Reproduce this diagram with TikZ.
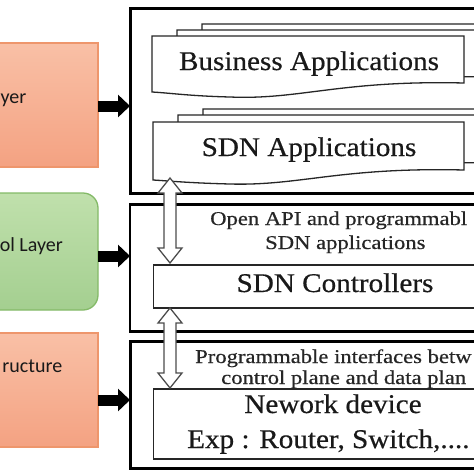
\documentclass[tikz,border=0pt]{standalone}
\usepackage{fontspec}
\setmainfont{Liberation Serif}
\newfontfamily\heavyserif{Liberation Serif}[FakeBold=0.5]
\newfontfamily\carlitofont{Carlito}
\usetikzlibrary{arrows.meta,calc}
\definecolor{orfillA}{RGB}{249,192,166}
\definecolor{orfillB}{RGB}{244,162,130}
\definecolor{ordraw}{RGB}{238,150,108}
\definecolor{grfillA}{RGB}{192,224,172}
\definecolor{grfillB}{RGB}{164,207,144}
\definecolor{grdraw}{RGB}{132,186,104}
\newcommand\hollowdbl[2]{%
  \draw[harrow] (#1) -- ++(12,15) -- ++(-6,0) -- ($(#2)+(6,-15)$) -- ++(6,0) -- (#2)
    -- ++(-12,-15) -- ++(6,0) -- ($(#1)+(-6,15)$) -- ++(-6,0) -- cycle;}
\begin{document}
\begin{tikzpicture}[x=1pt,y=-1pt,
  orbox/.style={draw=ordraw,line width=1.3pt,top color=orfillA,bottom color=orfillB,inner sep=0,outer sep=0,anchor=north west},
  grbox/.style={draw=grdraw,line width=1.3pt,top color=grfillA,bottom color=grfillB,rounded corners=15pt,inner sep=0,outer sep=0,anchor=north west},
  frame/.style={draw=black,line width=3pt,inner sep=0,outer sep=0,anchor=north west},
  plainbox/.style={draw=black!85,line width=1.5pt,fill=white,inner sep=0,outer sep=0,anchor=north west},
  docbox/.style={draw=black!85,line width=1.3pt,fill=white},
  bigarrow/.style={line width=11pt,-{Triangle[length=12pt,width=22pt]}},
  harrow/.style={draw=black!70,line width=1.3pt,fill=white,line join=miter},
  bigtxt/.style={font=\heavyserif\fontsize{27}{30}\selectfont,xscale=1.08,inner sep=0,text=black!90},
  smalltxt/.style={font=\heavyserif\fontsize{19.5}{22}\selectfont,xscale=1.16,inner sep=0,anchor=base west,text=black!85},
  lefttxt/.style={font=\carlitofont\fontsize{20}{24}\selectfont,inner sep=0,anchor=base east,text=black!90}]
\useasboundingbox (0,0) rectangle (474,474);
\clip (0,0) rectangle (474,474);
\fill[white] (0,0) rectangle (474,474);

% left layer boxes
\node[orbox,minimum width=120pt,minimum height=124pt] (L1) at (-22,43) {};
\node[grbox,minimum width=120pt,minimum height=117pt] (L2) at (-22,193) {};
\node[orbox,minimum width=120pt,minimum height=114pt] (L3) at (-22,333) {};
\node[lefttxt] (t1) at (26.5,103) {yer};
\node[lefttxt] (t2) at (63,251) {ol Layer};
\node[lefttxt] (t3) at (62.5,372) {ructure};

% right frames
\node[frame,minimum width=370pt,minimum height=185pt] (F1) at (130,8.5) {};
\node[frame,line width=2.2pt,minimum width=370pt,minimum height=127pt] (F2) at (130,204.5) {};
\node[frame,minimum width=370pt,minimum height=127pt] (F3) at (130,341.5) {};

% business applications stack
\foreach \dx/\dy in {50/-12,25/-6,0/0}{
  \begin{scope}[shift={(\dx,\dy)}]
  \draw[docbox] (152,36) -- (464,36) -- (464,83) .. controls (340,80) and (300,100) .. (230,97)
     .. controls (190,96) and (170,93) .. (152,92) -- cycle;
  \end{scope}}
\node[bigtxt,anchor=base] (bapp) at (309,70) {Business Applications};

% SDN applications stack
\foreach \dx/\dy in {50/-13,25/-7,0/0}{
  \begin{scope}[shift={(\dx,\dy)}]
  \draw[docbox] (153,122) -- (464,122) -- (464,170) .. controls (340,167) and (300,186) .. (230,184)
     .. controls (190,183) and (170,181) .. (153,180) -- cycle;
  \end{scope}}
\node[bigtxt,anchor=base] (sapp) at (309,156) {SDN Applications};

% control layer
\node[smalltxt] (api1) at (210,225) {Open API and programmabl};
\node[smalltxt] (api2) at (265,249) {SDN applications};
\node[plainbox,minimum width=340pt,minimum height=43pt] (ctrlbox) at (153.5,265) {};
\node[bigtxt,anchor=base] (ctrl) at (335,292) {SDN Controllers};

% infrastructure layer
\node[smalltxt] (pi1) at (195,363) {Programmable interfaces betw};
\node[smalltxt] (pi2) at (221,384) {control plane and data plan};
\node[plainbox,minimum width=340pt,minimum height=70pt] (netbox) at (153.5,389) {};
\node[bigtxt,anchor=base] (net1) at (333,413) {Nework device};
\node[bigtxt,anchor=base west] (net2) at (187,448) {Exp : Router, Switch,....};

% black arrows from the layer boxes to the frames
\coordinate (y1) at (0,106);
\coordinate (y2) at (0,256);
\coordinate (y3) at (0,400);
\draw[bigarrow] (L1.east |- y1) -- (F1.west |- y1);
\draw[bigarrow] (L2.east |- y2) -- (F2.west |- y2);
\draw[bigarrow] (L3.east |- y3) -- (F3.west |- y3);

% hollow double arrows
\coordinate (h1a) at (170,178);
\coordinate (h1b) at (170,263);
\coordinate (h2a) at (170,308);
\coordinate (h2b) at (170,388);
\hollowdbl{h1a}{h1b}
\hollowdbl{h2a}{h2b}
\end{tikzpicture}
\end{document}
